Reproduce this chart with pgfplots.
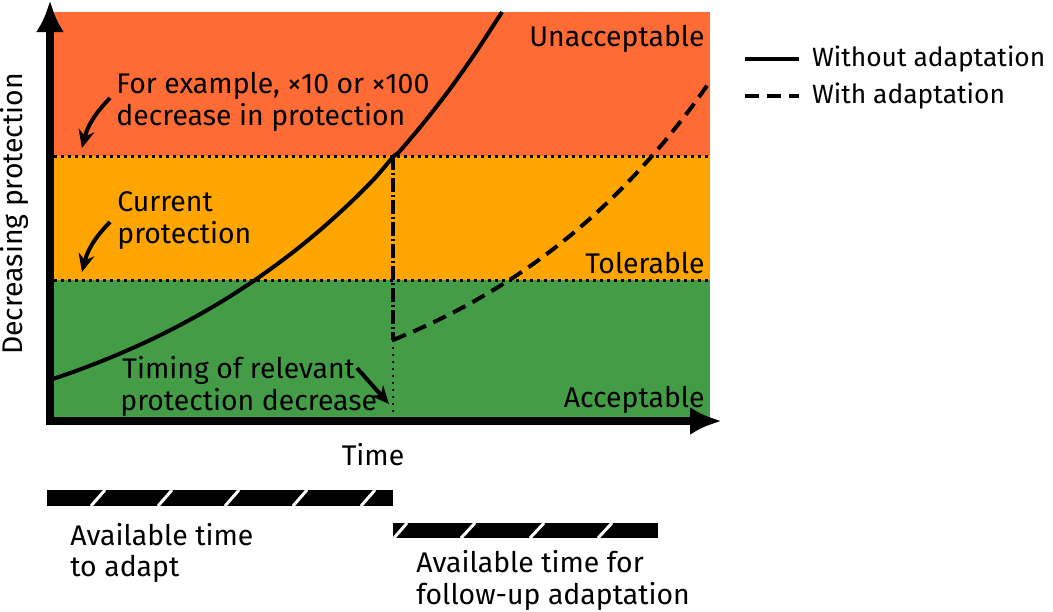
\documentclass[border=0pt]{standalone}
\usepackage{fontspec}
\setmainfont{Fira Sans}
\usepackage{pgfplots}
\pgfplotsset{compat=1.18}
\usetikzlibrary{arrows.meta}

\definecolor{unacc}{HTML}{FF6B35}
\definecolor{toler}{HTML}{FFA500}
\definecolor{accep}{HTML}{449D46}

\begin{document}
\begin{tikzpicture}[font=\fontsize{14.2}{17}\selectfont]
\begin{axis}[
    width=526.5pt, height=305.5pt, scale only axis,
    xmin=0, xmax=1053, ymin=0, ymax=611,
    y dir=reverse,
    hide axis, clip=false,
    legend style={at={(axis cs:743,77)}, anchor=west, draw=none, fill=none,
        inner sep=0pt, outer sep=0pt, row sep=5pt, column sep=0pt,
        nodes={inner sep=0pt, text height=10.5pt, text depth=3pt},
        /tikz/every odd column/.append style={column sep=5.5pt},
        font=\fontsize{13.2}{16}\selectfont},
    legend cell align=left,
    legend image code/.code={\draw[#1] (0pt,0pt) -- (27pt,0pt);},
  ]
  % risk bands
  \addplot[draw=none, fill=unacc, forget plot] coordinates {(50,12) (710,12) (710,156) (50,156)} -- cycle;
  \addplot[draw=none, fill=toler, forget plot] coordinates {(50,156) (710,156) (710,280) (50,280)} -- cycle;
  \addplot[draw=none, fill=accep, forget plot] coordinates {(50,280) (710,280) (710,421) (50,421)} -- cycle;
  % band borders
  \addplot[black, line width=1.5pt, dash pattern=on 1.5pt off 2pt, forget plot] coordinates {(54,156) (710,156)};
  \addplot[black, line width=1.5pt, dash pattern=on 1.5pt off 2pt, forget plot] coordinates {(54,280) (710,280)};

  % curves
  \addplot[black, line width=2pt, smooth] coordinates {
    (50,380) (75,371.3) (100,361.8) (125,351.4) (150,340.1) (175,327.7) (200,314.2)
    (225,299.5) (250,283.4) (275,265.8) (300,246.7) (325,225.8) (350,203) (375,178)
    (393,157) (400,150.9) (425,121.2) (450,88.9) (475,53.5) (502,12)};
  \addlegendentry{Without adaptation}
  \addplot[black, line width=2pt, smooth, dash pattern=on 7pt off 4pt] coordinates {
    (393,340) (418,329.4) (443,317.6) (468,304.6) (493,290.2) (518,274.4) (543,256.8)
    (568,237.4) (593,216) (618,192.3) (643,166.1) (668,137.2) (693,105.2) (711,80)};
  \addlegendentry{With adaptation}

  \addplot[black, line width=2pt, dash pattern=on 7pt off 1.5pt on 1pt off 1.5pt, forget plot] coordinates {(393,156) (393,340)};
  \addplot[black, line width=1pt, dash pattern=on 1pt off 2.5pt, forget plot] coordinates {(393,340) (393,418)};

  % time bars
  \addplot[black, line width=8pt, forget plot] coordinates {(47,498) (393,498)};
  \addplot[black, line width=7.5pt, forget plot] coordinates {(393,530.5) (658,530.5)};
  \addplot[white, line width=1.5pt, unbounded coords=jump, forget plot] coordinates {
    (91,506) (105,490) (nan,nan) (158,506) (172,490) (nan,nan) (225,506) (239,490) (nan,nan)
    (293,506) (307,490) (nan,nan) (361,506) (375,490) (nan,nan)
    (394,538) (407,523) (nan,nan) (461,538) (475,523) (nan,nan) (530,538) (544,523) (nan,nan)
    (598,538) (612,523)};

  % axes
  \draw[line width=3.75pt, -{Latex[length=16pt,width=14pt]}] (axis cs:50,425) -- (axis cs:50,0);
  \draw[line width=3.75pt, -{Latex[length=16pt,width=14pt]}] (axis cs:46.5,421) -- (axis cs:722,421);

  % annotation arrows
  \draw[line width=2pt, -{Stealth[length=9pt,width=8pt]}] (axis cs:110,98) to[bend right=15] (axis cs:82,148);
  \draw[line width=2pt, -{Stealth[length=9pt,width=8pt]}] (axis cs:110,222) to[bend right=15] (axis cs:82,272);
  \draw[line width=2pt, -{Stealth[length=9pt,width=8pt]}] (axis cs:357,368) -- (axis cs:389,404);

  % texts
  \node[anchor=base west, inner sep=0pt] at (axis cs:116,93) {For example, ×10 or ×100};
  \node[anchor=base west, inner sep=0pt] at (axis cs:116,125) {decrease in protection};
  \node[anchor=base west, inner sep=0pt] at (axis cs:117,211) {Current};
  \node[anchor=base west, inner sep=0pt] at (axis cs:117,243) {protection};
  \node[anchor=base west, inner sep=0pt] at (axis cs:122,378) {Timing of relevant};
  \node[anchor=base west, inner sep=0pt] at (axis cs:120,410) {protection decrease};
  \node[anchor=base east, inner sep=0pt] at (axis cs:705,46) {Unacceptable};
  \node[anchor=base east, inner sep=0pt] at (axis cs:705,273) {Tolerable};
  \node[anchor=base east, inner sep=0pt] at (axis cs:705,407) {Acceptable};
  \node[anchor=base, inner sep=0pt, rotate=90] at (axis cs:22,214) {Decreasing protection};
  \node[anchor=base, inner sep=0pt] at (axis cs:373,465) {Time};
  \node[anchor=base west, inner sep=0pt] at (axis cs:70,545) {Available time};
  \node[anchor=base west, inner sep=0pt] at (axis cs:70,576) {to adapt};
  \node[anchor=base west, inner sep=0pt] at (axis cs:416,572) {Available time for};
  \node[anchor=base west, inner sep=0pt] at (axis cs:416,604) {follow-up adaptation};
\end{axis}
\pgfresetboundingbox
\useasboundingbox (0,0) rectangle (526.5pt,305.5pt);
\end{tikzpicture}
\end{document}
